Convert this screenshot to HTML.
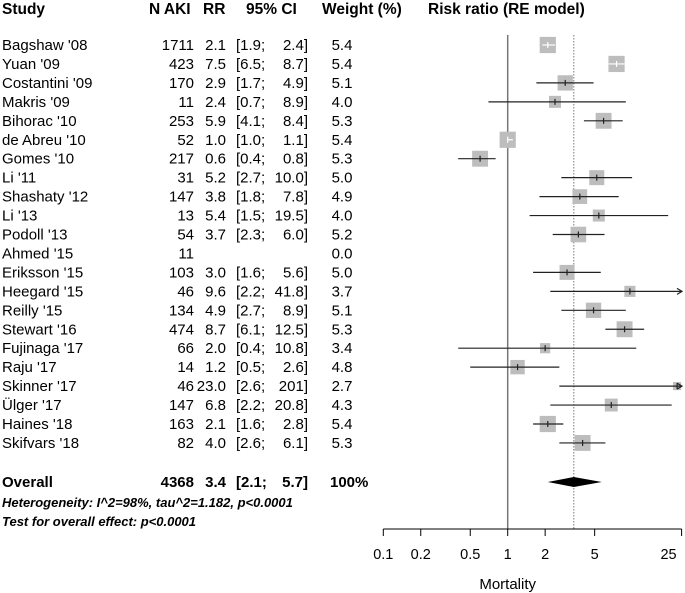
<!DOCTYPE html>
<html><head><meta charset="utf-8"><style>
html,body{margin:0;padding:0;background:#fff}
svg{display:block;font-family:"Liberation Sans",Arial,sans-serif}
</style></head><body>
<svg id="c" width="685" height="593" xmlns="http://www.w3.org/2000/svg"></svg>
<script>
const studies=["Bagshaw '08","Yuan '09","Costantini '09","Makris '09","Bihorac '10","de Abreu '10","Gomes '10","Li '11","Shashaty '12","Li '13","Podoll '13","Ahmed '15","Eriksson '15","Heegard '15","Reilly '15","Stewart '16","Fujinaga '17","Raju '17","Skinner '17","Ülger '17","Haines '18","Skifvars '18"];
const nAki=[1711,423,170,11,253,52,217,31,147,13,54,11,103,46,134,474,66,14,46,147,163,82];
const rr=[2.1,7.5,2.9,2.4,5.9,1.0,0.6,5.2,3.8,5.4,3.7,null,3.0,9.6,4.9,8.7,2.0,1.2,23.0,6.8,2.1,4.0];
const lo=[1.9,6.5,1.7,0.7,4.1,1.0,0.4,2.7,1.8,1.5,2.3,null,1.6,2.2,2.7,6.1,0.4,0.5,2.6,2.2,1.6,2.6];
const hi=[2.4,8.7,4.9,8.9,8.4,1.1,0.8,10.0,7.8,19.5,6.0,null,5.6,41.8,8.9,12.5,10.8,2.6,201,20.8,2.8,6.1];
const hiLabel=["2.4","8.7","4.9","8.9","8.4","1.1","0.8","10.0","7.8","19.5","6.0","","5.6","41.8","8.9","12.5","10.8","2.6","201","20.8","2.8","6.1"];
const weight=[5.4,5.4,5.1,4.0,5.3,5.4,5.3,5.0,4.9,4.0,5.2,0.0,5.0,3.7,5.1,5.3,3.4,4.8,2.7,4.3,5.4,5.3];
const overall=[3.4,2.1,5.7];
const ticks=[0.1,0.2,0.5,1,2,5,25];
const tickLabels=["0.1","0.2","0.5","1","2","5","25"];

const svg=document.getElementById('c');const NS="http://www.w3.org/2000/svg";
function el(t,a,p){const e=document.createElementNS(NS,t);for(const k in a)e.setAttribute(k,a[k]);(p||svg).appendChild(e);return e;}
const x=v=>507.7+124.4*Math.log10(v);
const XMIN=383.3,XMAX=682;
const rowY=i=>45+i*18.95;
const OY=482;
const FS=15;
function txt(s,xx,yy,o){const e=el('text',Object.assign({x:xx,y:yy,'font-size':FS,fill:'#000'},o||{}));e.textContent=s;return e;}
const hd=[["Study",2],["N AKI",149],["RR",203],["95% CI",246],["Weight (%)",322],["Risk ratio (RE model)",428]];
hd.forEach(h=>{const e=txt(h[0],h[1],14,{'font-weight':'bold','font-size':15.5});

});
let l=el('line',{x1:x(1),x2:x(1),y1:35,y2:529,stroke:'#777','stroke-width':1.5});


l=el('line',{x1:x(overall[0]),x2:x(overall[0]),y1:35,y2:529,stroke:'#777','stroke-width':1,'stroke-dasharray':'1.5,1.5'});


studies.forEach((s,i)=>{
 const y=rowY(i);const g=el('g',{});
 
 
 g.appendChild(txt(s,2,y+5,{}));
 g.appendChild(txt(String(nAki[i]),194,y+5,{'text-anchor':'end'}));
 if(rr[i]!=null){
  g.appendChild(txt(rr[i].toFixed(1),226,y+5,{'text-anchor':'end'}));
  g.appendChild(txt("["+lo[i].toFixed(1)+";",236,y+5,{}));
  g.appendChild(txt(hiLabel[i]+"]",308,y+5,{'text-anchor':'end'}));
 }
 g.appendChild(txt(weight[i].toFixed(1),342,y+5,{'text-anchor':'middle'}));
 if(rr[i]==null)return;
 const sz=3*weight[i];
 const r=el('rect',{x:x(rr[i])-sz/2,y:y-sz/2,width:sz,height:sz,fill:'#bdbdbd'},g);
 
 
 const x1=Math.max(XMIN,x(lo[i])),x2=Math.min(XMAX,x(hi[i]));
 const inside=(x(lo[i])>x(rr[i])-sz/2)&&(x(hi[i])<x(rr[i])+sz/2);
 const col=inside?'#fff':'#222';
 const ci=el('line',{x1:x1,x2:x2,y1:y,y2:y,stroke:col,'stroke-width':1.2},g);
 
 
 el('line',{x1:x(rr[i]),x2:x(rr[i]),y1:y-3,y2:y+3,stroke:col,'stroke-width':1.2},g);
 if(x(hi[i])>XMAX){el('polyline',{points:`${XMAX-5},${y-3} ${XMAX},${y} ${XMAX-5},${y+3}`,fill:'none',stroke:'#222','stroke-width':1.2},g);}
});
const og=el('g',{});


[["Overall",2,'start'],["4368",194,'end'],[overall[0].toFixed(1),226,'end'],["[2.1;",236,'start'],["5.7]",308,'end'],["100%",330,'start']].forEach(a=>og.appendChild(txt(a[0],a[1],OY+5,{'font-weight':'bold','text-anchor':a[2]})));
const d=el('polygon',{points:`${x(overall[1])},${OY} ${x(overall[0])},${OY-5} ${x(overall[2])},${OY} ${x(overall[0])},${OY+5}`,fill:'#000'});


let t=txt("Heterogeneity: I^2=98%, tau^2=1.182, p<0.0001",2,507,{'font-weight':'bold','font-style':'italic','font-size':13});


t=txt("Test for overall effect:  p<0.0001",2,526,{'font-weight':'bold','font-style':'italic','font-size':13});


const ax=el('g',{});


el('line',{x1:x(ticks[0]),x2:x(ticks[ticks.length-1]),y1:529,y2:529,stroke:'#000','stroke-width':1},ax);
ticks.forEach((v,i)=>{el('line',{x1:x(v),x2:x(v),y1:529,y2:536,stroke:'#000'},ax);
 const last=i===ticks.length-1;
 ax.appendChild(txt(tickLabels[i],last?x(v)-5:x(v),559,{'text-anchor':last?'end':'middle','font-size':14.5}));});
t=txt("Mortality",x(1),589,{'text-anchor':'middle','font-size':15});


</script>
</body></html>
